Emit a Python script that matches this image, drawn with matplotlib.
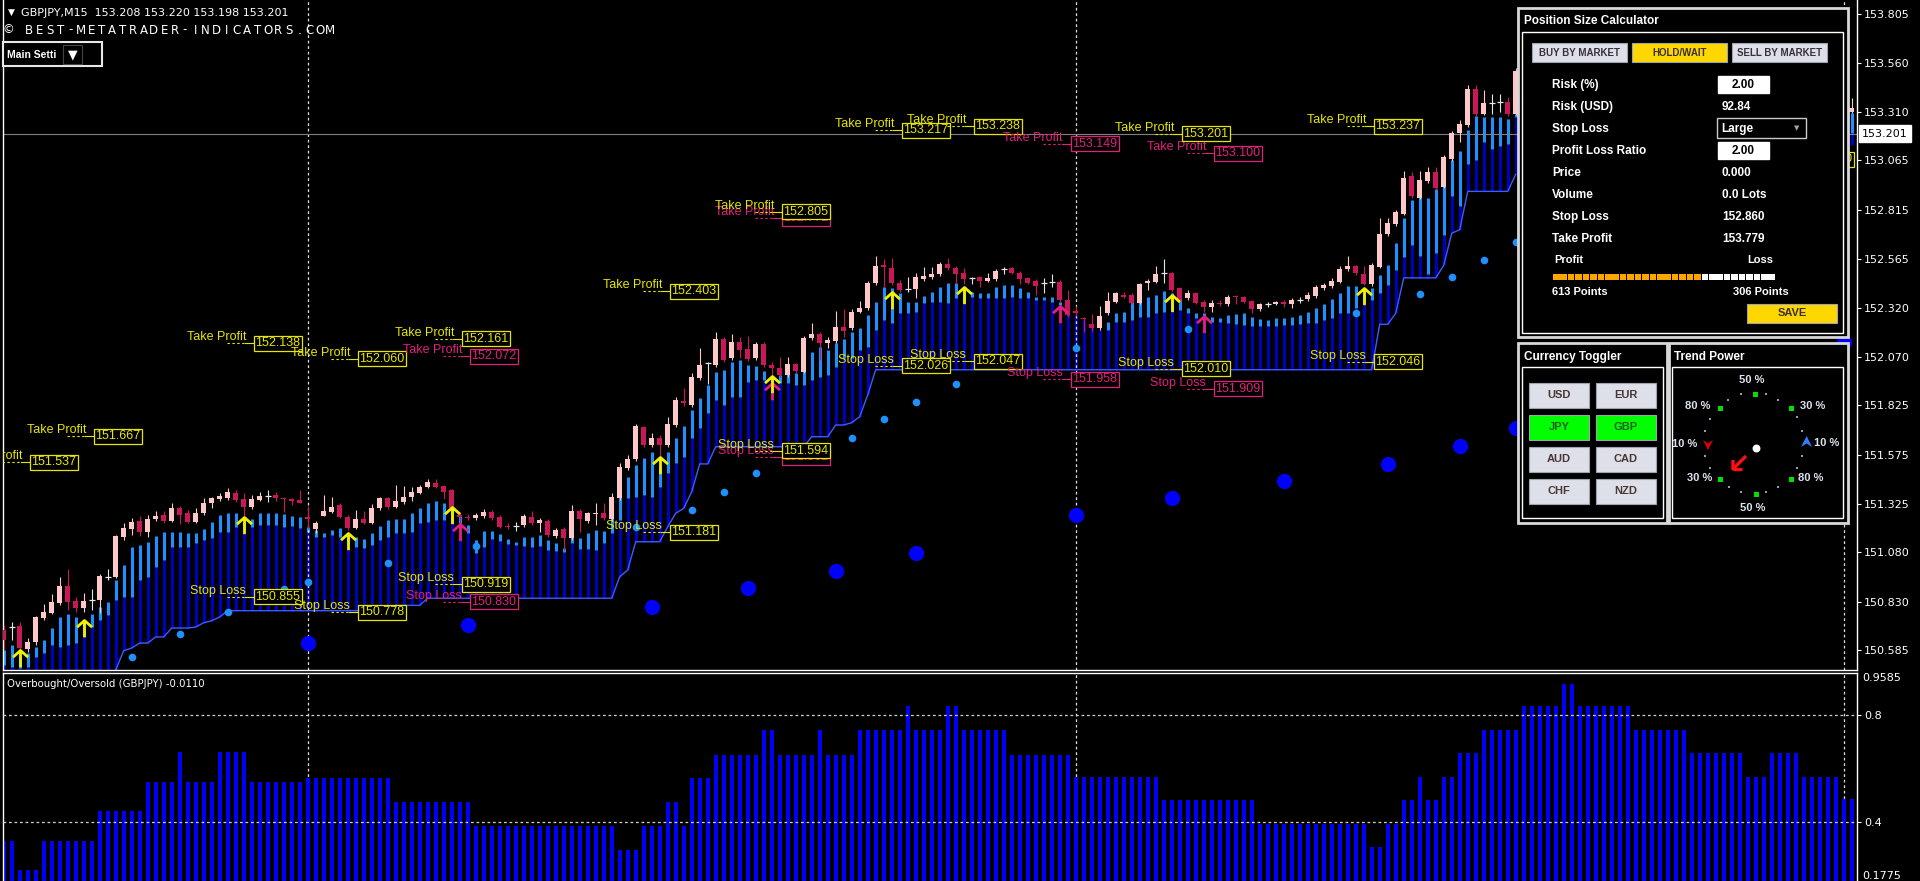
import numpy as np
import matplotlib
matplotlib.use('Agg')
import matplotlib.pyplot as plt
from matplotlib.patches import Rectangle, Polygon
from matplotlib.path import Path

# ---- GBPJPY M15 data ----
# bars 0..189 are visible, 190..230 sit under the panel, 231 is the last bar
bar_idx = list(range(190)) + [231]

opens = [
    150.687, 150.702, 150.707, 150.590, 150.628, 150.746, 150.775, 150.825, 150.910, 150.835,
    150.797, 150.839, 150.839, 150.957, 150.957, 151.159, 151.197, 151.241, 151.185, 151.248,
    151.269, 151.241, 151.306, 151.278, 151.235, 151.278, 151.329, 151.350, 151.354, 151.379,
    151.350, 151.308, 151.345, 151.367, 151.371, 151.354, 151.350, 151.345, 151.257, 151.197,
    151.264, 151.286, 151.320, 151.258, 151.205, 151.248, 151.230, 151.303, 151.354, 151.311,
    151.334, 151.359, 151.382, 151.413, 151.430, 151.416, 151.396, 151.267, 151.261, 151.253,
    151.264, 151.286, 151.258, 151.216, 151.214, 151.219, 151.258, 151.230, 151.241, 151.163,
    151.197, 151.151, 151.290, 151.241, 151.273, 151.281, 151.248, 151.354, 151.506, 151.551,
    151.713, 151.624, 151.661, 151.624, 151.725, 151.848, 151.826, 151.962, 152.037, 152.029,
    152.159, 152.063, 152.147, 152.108, 152.063, 152.134, 152.029, 152.012, 151.978, 152.034,
    151.995, 152.164, 152.184, 152.142, 152.150, 152.220, 152.215, 152.299, 152.316, 152.443,
    152.535, 152.518, 152.443, 152.414, 152.412, 152.463, 152.473, 152.488, 152.540, 152.518,
    152.493, 152.471, 152.473, 152.456, 152.463, 152.513, 152.518, 152.496, 152.468, 152.456,
    152.446, 152.451, 152.451, 152.358, 152.304, 152.269, 152.236, 152.215, 152.291, 152.349,
    152.383, 152.383, 152.344, 152.446, 152.451, 152.493, 152.493, 152.417, 152.367, 152.392,
    152.349, 152.324, 152.345, 152.338, 152.378, 152.372, 152.353, 152.311, 152.338, 152.338,
    152.349, 152.338, 152.358, 152.362, 152.378, 152.417, 152.429, 152.451, 152.513, 152.530,
    152.490, 152.439, 152.527, 152.691, 152.741, 152.795, 152.986, 152.877, 152.959, 153.004,
    152.931, 153.070, 153.203, 153.244, 153.425, 153.302, 153.356, 153.361, 153.361, 153.302,
    153.310]

highs = [
    150.713, 150.728, 150.728, 150.647, 150.758, 150.819, 150.869, 150.957, 150.994, 150.854,
    150.874, 150.895, 150.971, 150.996, 151.168, 151.230, 151.253, 151.264, 151.269, 151.291,
    151.290, 151.329, 151.315, 151.295, 151.303, 151.354, 151.362, 151.379, 151.405, 151.396,
    151.379, 151.371, 151.384, 151.396, 151.387, 151.361, 151.357, 151.396, 151.315, 151.239,
    151.371, 151.359, 151.330, 151.269, 151.295, 151.290, 151.325, 151.361, 151.361, 151.420,
    151.416, 151.410, 151.421, 151.450, 151.450, 151.421, 151.401, 151.286, 151.274, 151.281,
    151.298, 151.295, 151.269, 151.230, 151.235, 151.274, 151.290, 151.254, 151.249, 151.204,
    151.209, 151.320, 151.300, 151.286, 151.329, 151.332, 151.379, 151.531, 151.573, 151.730,
    151.720, 151.686, 151.674, 151.764, 151.865, 151.911, 151.987, 152.113, 152.046, 152.198,
    152.171, 152.184, 152.171, 152.176, 152.145, 152.145, 152.044, 152.071, 152.071, 152.041,
    152.176, 152.240, 152.196, 152.172, 152.304, 152.311, 152.311, 152.354, 152.454, 152.581,
    152.564, 152.569, 152.459, 152.473, 152.493, 152.527, 152.524, 152.552, 152.569, 152.530,
    152.518, 152.476, 152.480, 152.493, 152.513, 152.527, 152.525, 152.505, 152.476, 152.464,
    152.468, 152.490, 152.459, 152.409, 152.328, 152.273, 152.287, 152.328, 152.400, 152.399,
    152.400, 152.395, 152.444, 152.464, 152.530, 152.564, 152.500, 152.424, 152.409, 152.399,
    152.358, 152.358, 152.358, 152.383, 152.383, 152.378, 152.358, 152.343, 152.348, 152.353,
    152.358, 152.368, 152.375, 152.400, 152.434, 152.443, 152.468, 152.530, 152.581, 152.535,
    152.530, 152.545, 152.772, 152.772, 152.814, 153.013, 153.006, 153.013, 153.031, 153.031,
    153.092, 153.214, 153.269, 153.447, 153.447, 153.419, 153.401, 153.401, 153.386, 153.533,
    153.381]

lows = [
    150.586, 150.637, 150.545, 150.576, 150.611, 150.738, 150.768, 150.814, 150.788, 150.778,
    150.778, 150.788, 150.773, 150.940, 150.950, 151.143, 151.168, 151.163, 151.159, 151.239,
    151.230, 151.234, 151.224, 151.229, 151.229, 151.269, 151.303, 151.342, 151.345, 151.335,
    151.258, 151.300, 151.340, 151.337, 151.342, 151.286, 151.320, 151.329, 151.202, 151.177,
    151.262, 151.280, 151.254, 151.193, 151.199, 151.224, 151.224, 151.295, 151.300, 151.305,
    151.325, 151.342, 151.376, 151.406, 151.406, 151.350, 151.295, 151.227, 151.244, 151.244,
    151.254, 151.244, 151.204, 151.197, 151.190, 151.209, 151.219, 151.185, 151.158, 151.153,
    151.092, 151.143, 151.185, 151.229, 151.219, 151.244, 151.239, 151.345, 151.497, 151.543,
    151.614, 151.614, 151.517, 151.614, 151.715, 151.821, 151.816, 151.953, 151.933, 152.019,
    152.044, 152.054, 152.063, 152.049, 152.054, 152.019, 151.852, 151.968, 151.968, 151.988,
    151.988, 152.156, 152.054, 152.113, 152.140, 152.172, 152.206, 152.292, 152.307, 152.434,
    152.425, 152.434, 152.399, 152.400, 152.368, 152.454, 152.464, 152.480, 152.510, 152.439,
    152.439, 152.439, 152.422, 152.449, 152.454, 152.490, 152.490, 152.439, 152.439, 152.383,
    152.392, 152.425, 152.348, 152.272, 152.277, 152.197, 152.203, 152.206, 152.282, 152.343,
    152.368, 152.338, 152.338, 152.409, 152.444, 152.446, 152.399, 152.348, 152.358, 152.338,
    152.299, 152.299, 152.328, 152.328, 152.338, 152.343, 152.294, 152.302, 152.323, 152.333,
    152.324, 152.318, 152.341, 152.353, 152.368, 152.409, 152.419, 152.444, 152.505, 152.485,
    152.434, 152.429, 152.520, 152.682, 152.733, 152.788, 152.874, 152.869, 152.951, 152.915,
    152.925, 153.062, 153.158, 153.234, 153.290, 153.295, 153.302, 153.310, 153.290, 153.295,
    153.305]

closes = [
    150.637, 150.702, 150.596, 150.628, 150.751, 150.777, 150.830, 150.910, 150.830, 150.797,
    150.835, 150.839, 150.961, 150.957, 151.163, 151.202, 151.235, 151.185, 151.248, 151.264,
    151.239, 151.306, 151.269, 151.235, 151.278, 151.329, 151.357, 151.366, 151.384, 151.345,
    151.308, 151.350, 151.367, 151.367, 151.354, 151.348, 151.342, 151.332, 151.249, 151.230,
    151.290, 151.311, 151.261, 151.202, 151.248, 151.230, 151.306, 151.354, 151.311, 151.340,
    151.359, 151.387, 151.413, 151.435, 151.413, 151.387, 151.303, 151.259, 151.253, 151.269,
    151.286, 151.253, 151.210, 151.209, 151.214, 151.264, 151.227, 151.244, 151.168, 151.193,
    151.151, 151.290, 151.248, 151.278, 151.281, 151.253, 151.362, 151.511, 151.551, 151.722,
    151.624, 151.661, 151.624, 151.730, 151.852, 151.835, 151.970, 152.029, 152.037, 152.159,
    152.054, 152.147, 152.105, 152.058, 152.134, 152.029, 152.012, 151.978, 152.034, 152.000,
    152.164, 152.184, 152.142, 152.156, 152.220, 152.203, 152.299, 152.316, 152.443, 152.530,
    152.524, 152.443, 152.409, 152.414, 152.473, 152.480, 152.490, 152.540, 152.518, 152.490,
    152.463, 152.471, 152.456, 152.468, 152.506, 152.513, 152.496, 152.463, 152.446, 152.429,
    152.446, 152.451, 152.358, 152.282, 152.291, 152.262, 152.215, 152.277, 152.353, 152.392,
    152.375, 152.344, 152.438, 152.454, 152.490, 152.493, 152.409, 152.358, 152.395, 152.344,
    152.324, 152.344, 152.338, 152.375, 152.371, 152.349, 152.311, 152.338, 152.338, 152.346,
    152.338, 152.358, 152.358, 152.383, 152.422, 152.434, 152.456, 152.513, 152.530, 152.493,
    152.439, 152.535, 152.692, 152.750, 152.805, 152.976, 152.886, 152.964, 153.004, 152.926,
    153.082, 153.203, 153.251, 153.428, 153.298, 153.356, 153.356, 153.361, 153.302, 153.519,
    153.330]

# trend histogram: light part from hist_top down to hist_split, dark part down to the trailing stop
hist_top = [
    150.586, 150.611, 150.552, 150.569, 150.603, 150.637, 150.696, 150.751, 150.768, 150.751,
    150.738, 150.768, 150.805, 150.830, 150.940, 151.016, 151.109, 151.118, 151.134, 151.163,
    151.185, 151.185, 151.185, 151.180, 151.180, 151.197, 151.235, 151.269, 151.278, 151.278,
    151.235, 151.248, 151.278, 151.278, 151.278, 151.274, 151.264, 151.261, 151.210, 151.193,
    151.180, 151.193, 151.202, 151.159, 151.159, 151.146, 151.177, 151.214, 151.244, 151.248,
    151.248, 151.278, 151.306, 151.332, 151.342, 151.332, 151.311, 151.269, 151.219, 151.143,
    151.190, 151.190, 151.173, 151.146, 151.134, 151.156, 151.156, 151.168, 151.143, 151.126,
    151.101, 151.163, 151.151, 151.180, 151.193, 151.190, 151.303, 151.396, 151.463, 151.523,
    151.556, 151.590, 151.514, 151.590, 151.658, 151.720, 151.801, 151.860, 151.928, 151.995,
    152.004, 152.046, 152.054, 152.029, 152.024, 152.000, 151.970, 151.978, 151.983, 151.987,
    152.012, 152.096, 152.122, 152.105, 152.139, 152.159, 152.198, 152.215, 152.282, 152.349,
    152.425, 152.417, 152.392, 152.349, 152.349, 152.378, 152.400, 152.422, 152.443, 152.446,
    152.409, 152.400, 152.395, 152.395, 152.425, 152.434, 152.434, 152.417, 152.400, 152.375,
    152.375, 152.372, 152.349, 152.291, 152.282, 152.257, 152.223, 152.206, 152.248, 152.291,
    152.299, 152.349, 152.372, 152.375, 152.383, 152.405, 152.395, 152.362, 152.316, 152.291,
    152.291, 152.274, 152.265, 152.282, 152.287, 152.291, 152.274, 152.262, 152.257, 152.265,
    152.265, 152.274, 152.282, 152.299, 152.316, 152.338, 152.362, 152.392, 152.430, 152.429,
    152.395, 152.417, 152.485, 152.535, 152.645, 152.772, 152.864, 152.885, 152.877, 152.922,
    152.940, 153.067, 153.112, 153.221, 153.288, 153.284, 153.284, 153.284, 153.274, 153.302,
    153.305]

hist_split = [
    150.510, 150.501, 150.493, 150.501, 150.552, 150.569, 150.611, 150.603, 150.611, 150.620,
    150.653, 150.704, 150.738, 150.763, 150.839, 150.856, 150.856, 150.940, 150.957, 151.008,
    151.042, 151.109, 151.109, 151.109, 151.126, 151.143, 151.151, 151.185, 151.185, 151.210,
    151.193, 151.210, 151.219, 151.219, 151.219, 151.210, 151.214, 151.202, 151.185, 151.159,
    151.159, 151.168, 151.159, 151.126, 151.109, 151.101, 151.118, 151.143, 151.159, 151.177,
    151.177, 151.185, 151.227, 151.235, 151.244, 151.244, 151.235, 151.227, 151.177, 151.075,
    151.109, 151.146, 151.139, 151.123, 151.118, 151.113, 151.109, 151.113, 151.092, 151.089,
    151.084, 151.126, 151.096, 151.096, 151.092, 151.126, 151.177, 151.244, 151.354, 151.362,
    151.371, 151.362, 151.413, 151.481, 151.531, 151.565, 151.658, 151.708, 151.784, 151.852,
    151.826, 151.868, 151.868, 151.944, 151.953, 151.953, 151.911, 151.936, 151.939, 151.928,
    151.928, 151.953, 151.970, 151.978, 152.020, 152.063, 152.063, 152.105, 152.122, 152.206,
    152.257, 152.240, 152.291, 152.291, 152.299, 152.341, 152.349, 152.349, 152.341, 152.367,
    152.341, 152.375, 152.367, 152.367, 152.367, 152.367, 152.375, 152.367, 152.367, 152.358,
    152.358, 152.349, 152.333, 152.282, 152.282, 152.257, 152.223, 152.206, 152.206, 152.248,
    152.248, 152.257, 152.274, 152.274, 152.291, 152.299, 152.307, 152.307, 152.291, 152.265,
    152.265, 152.248, 152.248, 152.240, 152.237, 152.231, 152.226, 152.226, 152.226, 152.226,
    152.231, 152.231, 152.237, 152.240, 152.243, 152.257, 152.265, 152.291, 152.291, 152.316,
    152.341, 152.358, 152.392, 152.434, 152.510, 152.577, 152.637, 152.579, 152.490, 152.597,
    152.687, 152.886, 152.832, 153.049, 153.067, 153.158, 153.121, 153.139, 153.148, 153.285,
    153.204]

trail_stop = [
    150.450, 150.450, 150.450, 150.450, 150.450, 150.450, 150.450, 150.450, 150.450, 150.450,
    150.450, 150.450, 150.450, 150.450, 150.485, 150.582, 150.596, 150.621, 150.621, 150.652,
    150.652, 150.697, 150.697, 150.697, 150.702, 150.724, 150.734, 150.753, 150.785, 150.785,
    150.785, 150.785, 150.785, 150.785, 150.785, 150.785, 150.785, 150.785, 150.785, 150.785,
    150.785, 150.785, 150.785, 150.785, 150.785, 150.785, 150.785, 150.785, 150.785, 150.812,
    150.812, 150.812, 150.812, 150.848, 150.848, 150.848, 150.848, 150.848, 150.848, 150.848,
    150.848, 150.848, 150.848, 150.848, 150.848, 150.848, 150.848, 150.848, 150.848, 150.848,
    150.848, 150.848, 150.848, 150.848, 150.848, 150.848, 150.848, 150.957, 150.991, 151.134,
    151.134, 151.134, 151.134, 151.210, 151.278, 151.303, 151.387, 151.528, 151.528, 151.615,
    151.615, 151.615, 151.615, 151.615, 151.615, 151.615, 151.615, 151.615, 151.615, 151.615,
    151.615, 151.666, 151.666, 151.666, 151.725, 151.725, 151.737, 151.767, 151.877, 152.005,
    152.005, 152.005, 152.005, 152.005, 152.005, 152.005, 152.005, 152.005, 152.005, 152.005,
    152.005, 152.005, 152.005, 152.005, 152.005, 152.005, 152.005, 152.005, 152.005, 152.005,
    152.005, 152.005, 152.005, 152.005, 152.005, 152.005, 152.005, 152.005, 152.005, 152.005,
    152.005, 152.005, 152.005, 152.005, 152.005, 152.005, 152.005, 152.005, 152.005, 152.005,
    152.005, 152.005, 152.005, 152.005, 152.005, 152.005, 152.005, 152.005, 152.005, 152.005,
    152.005, 152.005, 152.005, 152.005, 152.005, 152.005, 152.005, 152.005, 152.005, 152.005,
    152.005, 152.005, 152.235, 152.235, 152.291, 152.470, 152.470, 152.470, 152.470, 152.470,
    152.533, 152.696, 152.714, 152.908, 152.908, 152.908, 152.908, 152.908, 152.908, 152.994,
    153.143]

# signal dots
small_dot_bar = [16, 22, 28, 35, 38, 48, 59, 79, 86, 90, 94, 100, 106, 110, 114, 119, 125, 134,
                 148, 169, 177, 181, 185, 189]
small_dot_px = [150.552, 150.667, 150.780, 150.893, 150.932, 151.025, 151.114, 151.210, 151.295,
                151.387, 151.481, 151.573, 151.661, 151.754, 151.843, 151.933, 152.025, 152.117,
                152.210, 152.294, 152.387, 152.475, 152.561, 152.652]
big_dot_bar = [38, 58, 81, 93, 104, 114, 134, 146, 160, 173, 182, 189, 230]
big_dot_px = [150.620, 150.713, 150.805, 150.898, 150.987, 151.079, 151.269, 151.354, 151.443,
              151.528, 151.620, 151.710, 152.147]

# buy arrows (tip price)
yellow_arrow_bar = [2, 10, 30, 43, 56, 82, 96, 111, 120, 146, 170]
yellow_arrow_px = [150.586, 150.738, 151.258, 151.180, 151.308, 151.562, 151.973, 152.400,
                   152.422, 152.383, 152.417]
pink_arrow_bar = [57, 96, 132, 150]
pink_arrow_px = [151.224, 151.939, 152.329, 152.277]

# take profit / stop loss tags: (bar, price, text, colour key)
tp_sl_tags = [
    (3.3, 151.537, 'Take Profit', 'y'), (11.3, 151.667, 'Take Profit', 'y'),
    (31.3, 152.138, 'Take Profit', 'y'), (31.3, 150.855, 'Stop Loss', 'y'),
    (44.3, 152.060, 'Take Profit', 'y'), (44.3, 150.778, 'Stop Loss', 'y'),
    (58.3, 152.072, 'Take Profit', 'm'), (58.3, 150.830, 'Stop Loss', 'm'),
    (57.3, 152.161, 'Take Profit', 'y'), (57.3, 150.919, 'Stop Loss', 'y'),
    (83.3, 152.403, 'Take Profit', 'y'), (83.3, 151.181, 'Stop Loss', 'y'),
    (97.3, 152.772, 'Take Profit', 'm'), (97.3, 151.562, 'Stop Loss', 'm'),
    (97.3, 152.805, 'Take Profit', 'y'), (97.3, 151.594, 'Stop Loss', 'y'),
    (112.3, 153.217, 'Take Profit', 'y'), (112.3, 152.026, 'Stop Loss', 'y'),
    (121.3, 153.238, 'Take Profit', 'y'), (121.3, 152.047, 'Stop Loss', 'y'),
    (133.4, 153.149, 'Take Profit', 'm'), (133.4, 151.958, 'Stop Loss', 'm'),
    (151.3, 153.100, 'Take Profit', 'm'), (151.3, 151.909, 'Stop Loss', 'm'),
    (147.3, 153.201, 'Take Profit', 'y'), (147.3, 152.010, 'Stop Loss', 'y'),
    (171.3, 153.237, 'Take Profit', 'y'), (171.3, 152.046, 'Stop Loss', 'y'),
    (225.3, 153.070, 'Stop Loss', 'y'),
]

day_breaks = [38, 134, 230]
bid = 153.201
price_ticks = [153.805, 153.560, 153.310, 153.065, 152.815, 152.565, 152.320, 152.070,
               151.825, 151.575, 151.325, 151.080, 150.830, 150.585]

# Overbought/Oversold histogram, one value per bar (0..231)
osc = [
    0.327, 0.327, 0.218, 0.218, 0.218, 0.327, 0.327, 0.327, 0.327, 0.327,
    0.327, 0.327, 0.440, 0.440, 0.440, 0.440, 0.440, 0.440, 0.549, 0.549,
    0.549, 0.549, 0.663, 0.549, 0.549, 0.549, 0.549, 0.663, 0.663, 0.663,
    0.663, 0.549, 0.549, 0.549, 0.549, 0.549, 0.549, 0.549, 0.565, 0.565,
    0.565, 0.565, 0.565, 0.565, 0.565, 0.565, 0.565, 0.565, 0.565, 0.474,
    0.474, 0.474, 0.474, 0.474, 0.474, 0.474, 0.474, 0.474, 0.474, 0.385,
    0.385, 0.385, 0.385, 0.385, 0.385, 0.385, 0.385, 0.385, 0.385, 0.385,
    0.385, 0.385, 0.385, 0.385, 0.385, 0.385, 0.385, 0.294, 0.294, 0.294,
    0.385, 0.385, 0.385, 0.474, 0.474, 0.385, 0.565, 0.565, 0.565, 0.653,
    0.653, 0.653, 0.653, 0.653, 0.653, 0.745, 0.745, 0.653, 0.653, 0.653,
    0.653, 0.653, 0.745, 0.653, 0.653, 0.653, 0.653, 0.745, 0.745, 0.745,
    0.745, 0.745, 0.745, 0.835, 0.745, 0.745, 0.745, 0.745, 0.835, 0.835,
    0.745, 0.745, 0.745, 0.745, 0.745, 0.745, 0.653, 0.653, 0.653, 0.653,
    0.653, 0.653, 0.653, 0.653, 0.567, 0.567, 0.567, 0.567, 0.567, 0.567,
    0.567, 0.567, 0.567, 0.567, 0.567, 0.482, 0.482, 0.482, 0.482, 0.482,
    0.482, 0.482, 0.482, 0.482, 0.482, 0.482, 0.482, 0.391, 0.391, 0.391,
    0.391, 0.391, 0.391, 0.391, 0.391, 0.391, 0.391, 0.391, 0.391, 0.391,
    0.391, 0.304, 0.304, 0.391, 0.391, 0.482, 0.482, 0.567, 0.482, 0.482,
    0.567, 0.567, 0.657, 0.657, 0.657, 0.745, 0.745, 0.745, 0.745, 0.745,
    0.835, 0.835, 0.835, 0.835, 0.835, 0.920, 0.920, 0.835, 0.835, 0.835,
    0.835, 0.835, 0.835, 0.835, 0.745, 0.745, 0.745, 0.745, 0.745, 0.745,
    0.745, 0.657, 0.657, 0.657, 0.657, 0.657, 0.657, 0.657, 0.567, 0.567,
    0.567, 0.657, 0.657, 0.657, 0.657, 0.567, 0.567, 0.567, 0.567, 0.567,
    0.484, 0.484]

# ---- colours ----
BULL = '#ffc8c8'
BEAR = '#c8185a'
LIGHT = '#1e90ff'
DARK = '#0000c0'
YEL = '#e6e600'
MAG = '#e0207a'
tag_color = {'y': YEL, 'm': MAG}
LBL = ['Liberation Sans', 'DejaVu Sans']
GUIF = ['Liberation Sans', 'DejaVu Sans']

W, H = 1920, 881
fig = plt.figure(figsize=(W / 100, H / 100), dpi=100, facecolor='black')
ax = fig.add_axes([2.5 / W, 211 / H, (1857 - 2.5) / W, 670 / H], facecolor='black')
ax2 = fig.add_axes([2.5 / W, 0, (1857 - 2.5) / W, 207.7 / H], facecolor='black')

x = np.array(bar_idx)
o, h, l, c = (np.array(v) for v in (opens, highs, lows, closes))
top, split, trail = np.array(hist_top), np.array(hist_split), np.array(trail_stop)

# trend histogram + trailing stop
ax.vlines(x, trail, split, colors=DARK, lw=2.2, zorder=1)
ax.vlines(x, split, top, colors=LIGHT, lw=2.2, zorder=1.1)
ax.plot(x[:190], trail[:190], color='#3d5cff', lw=1.0, zorder=2)
ax.plot(x[190:], trail[190:], color='#3d5cff', lw=1.0, zorder=2)

for b in day_breaks:
    for a in (ax, ax2):
        a.axvline(b, color='#e0e0e0', lw=0.9, ls=(0, (2.2, 2.2)), zorder=1.5)
ax.axhline(bid, color='#808080', lw=0.8, zorder=1.6)

# dots
ax.scatter(small_dot_bar, small_dot_px, s=30, color=LIGHT, lw=0, zorder=3)
ax.scatter(big_dot_bar, big_dot_px, s=120, color='#0000ff', lw=0, zorder=3)

# candles
doji = c == o
body_col = np.where(c > o, BULL, BEAR)
wick_col = np.where(doji, '#e6e6e6', body_col)
ax.vlines(x, l, h, colors=wick_col, lw=0.8, zorder=4)
nd = ~doji
ax.bar(x[nd], np.maximum(np.abs(c - o)[nd], 0.005), bottom=np.minimum(o, c)[nd], width=0.62,
       color=body_col[nd], lw=0, zorder=4.5)
ax.hlines(c[doji], x[doji] - 0.35, x[doji] + 0.35, colors='#e6e6e6', lw=0.9, zorder=4.5)

# up arrows: chevron + stem, tip on the point
arrow = Path([(0, 0), (0, -2), (-0.9, -0.8), (0, 0), (0.9, -0.8)],
             [Path.MOVETO, Path.LINETO, Path.MOVETO, Path.LINETO, Path.LINETO])
ax.plot(pink_arrow_bar, pink_arrow_px, ls='none', marker=arrow, ms=24, mfc='none', mec=MAG,
        mew=2.0, zorder=5)
ax.plot(yellow_arrow_bar, yellow_arrow_px, ls='none', marker=arrow, ms=24, mfc='none', mec='#f0f000',
        mew=2.0, zorder=5.1)

# TP / SL tags
for k, (b, p, txt, ck) in enumerate(tp_sl_tags):
    col = tag_color[ck]
    z = 6 + k * 0.01
    ax.plot([b - 3.45, b - 1.15], [p, p], color=col, lw=0.8, ls=(0, (2.2, 2.2)), zorder=z)
    ax.plot([b - 1.15, b], [p, p], color=col, lw=0.8, zorder=z)
    ax.text(b - 1.0, p, txt, color=col, ha='right', va='bottom', fontsize=9, family=LBL,
            zorder=z, clip_on=True)
    ax.text(b + 0.18, p, f'{p:.3f}', color=col, ha='left', va='center', fontsize=9, family=LBL,
            zorder=z + 0.005, clip_on=True,
            bbox=dict(boxstyle='square,pad=0.12', fc='black', ec=col, lw=0.9))

ax.set_xlim(-0.15, 231.66)
ax.set_ylim(150.4846, 153.877)
ax.set_xticks([])
ax.yaxis.tick_right()
ax.set_yticks(price_ticks)
ax.set_yticklabels([f'{t:.3f}' for t in price_ticks])
ax.tick_params(axis='y', colors='white', length=3, width=0.8, pad=2, labelsize=8)
for s in ('left', 'right', 'bottom'):
    ax.spines[s].set_color('white')
    ax.spines[s].set_linewidth(1.0)
ax.spines['top'].set_visible(False)
ax.text(1.0027, bid, f'{bid:.3f}', transform=ax.get_yaxis_transform(), ha='left', va='center',
        fontsize=8, color='black', bbox=dict(boxstyle='square,pad=0.3', fc='white', ec='white'),
        zorder=8, clip_on=False)

# bottom panel
ax2.vlines(np.arange(len(osc)), 0, osc, colors='#0000ff', lw=2.8, zorder=2)
for lev in (0.8, 0.4):
    ax2.axhline(lev, color='#d0d0d0', lw=0.9, ls=(0, (2.2, 2.2)), zorder=3)
ax2.set_xlim(-0.15, 231.66)
ax2.set_ylim(0.1775, 0.9585)
ax2.set_xticks([])
ax2.yaxis.tick_right()
ax2.set_yticks([0.8, 0.4])
ax2.set_yticklabels(['0.8', '0.4'])
ax2.tick_params(axis='y', colors='white', length=3, width=0.8, pad=2, labelsize=8)
ax2.text(1.0027, 0.9585, '0.9585', transform=ax2.get_yaxis_transform(), ha='left', va='top',
         fontsize=8, color='white', clip_on=False)
ax2.text(1.0027, 0.1775, '0.1775', transform=ax2.get_yaxis_transform(), ha='left', va='bottom',
         fontsize=8, color='white', clip_on=False)
for s in ('left', 'right', 'top'):
    ax2.spines[s].set_color('white')
    ax2.spines[s].set_linewidth(1.0)
ax2.spines['bottom'].set_visible(False)

# ---- overlay in pixel coordinates: header text and the EA panels ----
gui = fig.add_axes([0, 0, 1, 1])
gui.set_xlim(0, W)
gui.set_ylim(H, 0)
gui.axis('off')
gui.patch.set_alpha(0)
gui.set_zorder(10)


def box(x0, y0, x1, y1, fc='black', ec='white', lw=1.0):
    gui.add_patch(Rectangle((x0, y0), x1 - x0, y1 - y0, fc=fc, ec=ec, lw=lw))


def gtxt(xp, yp, s, color='white', size=8.5, ha='left', weight='bold', family=GUIF):
    gui.text(xp, yp, s, color=color, fontsize=size, ha=ha, va='center', fontweight=weight,
             family=family)


gui.text(11, 12.5, '\u25bc', color='white', fontsize=6.5, ha='center', va='center')
gui.text(21, 13, 'GBPJPY,M15  153.208 153.220 153.198 153.201', color='white', fontsize=8,
         ha='left', va='center')
for k, ch in enumerate('\u00a9 BEST-METATRADER-INDICATORS.COM'):
    gui.text(8.5 + 10.38 * k, 30, ch, color='white', fontsize=8.5, ha='center', va='center')
box(3, 42, 102, 66, ec='#e8e8e8', lw=1.5)
gtxt(7, 54.5, 'Main Setti', size=7.5)
box(63, 45, 82, 64, ec='#444444', lw=0.8)
gui.text(72.5, 54.5, '\u25bc', color='white', fontsize=9, ha='center', va='center')
gui.text(7, 684, 'Overbought/Oversold (GBPJPY) -0.0110', color='white', fontsize=7.3,
         ha='left', va='center')

# Position Size Calculator
box(1518, 8, 1848, 337, ec='#d8d8d8', lw=2.0)
box(1522, 32, 1843, 333, ec='white', lw=1.0)
gtxt(1524, 21, 'Position Size Calculator', size=8.5)
BTN_TXT = '#3a2f3a'
for bx, lab, fc in ((1532, 'BUY BY MARKET', '#dde0e8'), (1632, 'HOLD/WAIT', '#ffd700'),
                    (1732, 'SELL BY MARKET', '#dde0e8')):
    box(bx, 43, bx + 95, 62, fc=fc, ec='#a0a4b0', lw=0.8)
    gtxt(bx + 47.5, 52.5, lab, color=BTN_TXT, size=7, ha='center')
row_labels = ['Risk (%)', 'Risk (USD)', 'Stop Loss', 'Profit Loss Ratio', 'Price', 'Volume',
              'Stop Loss', 'Take Profit']
row_values = ['2.00', '92.84', 'Large', '2.00', '0.000', '0.0 Lots', '152.860', '153.779']
for k, (lab, val) in enumerate(zip(row_labels, row_values)):
    yy = 85 + 22 * k
    gtxt(1552, yy, lab, size=8.5)
    if k in (0, 3):
        box(1718, yy - 9, 1769, yy + 8, fc='white', ec='white')
        gtxt(1743.5, yy, val, color='black', size=8.5, ha='center')
    elif k == 2:
        box(1717, yy - 11, 1806, yy + 9, fc='black', ec='#c8c8d0', lw=1.0)
        gtxt(1721, yy, val, size=8.5)
        gui.text(1797, yy - 1, '\u25bc', color='#a0a0a0', fontsize=5, ha='center', va='center')
    else:
        gtxt(1722, yy, val, size=8.5)
gtxt(1554, 260, 'Profit', size=8)
gtxt(1747, 260, 'Loss', size=8)
profit_pts, loss_pts = 613, 306
n_seg = 30
n_profit = round(n_seg * profit_pts / (profit_pts + loss_pts))
for k in range(n_seg):
    sx = 1553 + k * 7.43
    box(sx, 274, sx + 6.6, 280, fc='#ffa500' if k < n_profit else 'white', ec='none', lw=0)
gtxt(1552, 292, f'{profit_pts} Points', size=8)
gtxt(1733, 292, f'{loss_pts} Points', size=8)
box(1747, 304, 1837, 323, fc='#ffd700', ec='#a0a4b0', lw=0.8)
gtxt(1792, 313.5, 'SAVE', color=BTN_TXT, size=8, ha='center')

# Currency Toggler
box(1518, 343, 1667, 523, ec='#d8d8d8', lw=2.0)
box(1522, 367, 1663, 518, ec='white', lw=1.0)
gtxt(1524, 357, 'Currency Toggler', size=8.5)
currencies = [('USD', 'EUR'), ('JPY', 'GBP'), ('AUD', 'CAD'), ('CHF', 'NZD')]
active = ('JPY', 'GBP')
for r, pair in enumerate(currencies):
    yy = 383 + 32 * r
    for cc, cur in enumerate(pair):
        bx = 1529 + 67 * cc
        on = cur in active
        box(bx, yy, bx + 60, yy + 25, fc='#00ff00' if on else '#dde0e8', ec='#a0a4b0', lw=0.8)
        gtxt(bx + 30, yy + 12.5, cur, color='#1f5f1f' if on else '#4a3535', size=8, ha='center')

# Trend Power
box(1669, 343, 1848, 523, ec='#d8d8d8', lw=2.0)
box(1672, 367, 1843, 518, ec='white', lw=1.0)
gtxt(1674, 357, 'Trend Power', size=8.5)
PCT = '#dde3ee'
for s, px, py in (('50 %', 1752, 380), ('80 %', 1698, 406), ('30 %', 1813, 406),
                  ('10 %', 1685, 444), ('10 %', 1827, 443), ('30 %', 1700, 478),
                  ('80 %', 1811, 478), ('50 %', 1753, 508)):
    gtxt(px, py, s, color=PCT, size=8, ha='center')
for px, py in ((1755, 394), (1720, 408), (1791, 408), (1720, 479), (1791, 479), (1756, 494)):
    box(px - 2.5, py - 2.5, px + 2.5, py + 2.5, fc='#00e000', ec='none', lw=0)
for px, py in ((1741, 394), (1766, 394), (1728, 400), (1778, 400), (1710, 419), (1797, 417),
               (1705, 431), (1802, 431), (1705, 456), (1802, 456), (1710, 468), (1797, 468),
               (1729, 487), (1778, 487), (1741, 492), (1766, 492)):
    box(px - 0.8, py - 0.8, px + 0.8, py + 0.8, fc='#8ea0c0', ec='none', lw=0)
gui.scatter([1756], [447.7], s=22, color='white', zorder=3)
gui.add_patch(Polygon([(1703, 440), (1708, 443.5), (1713, 440), (1708, 450)], closed=True,
                      fc='#e00000', ec='none'))
gui.add_patch(Polygon([(1801, 447), (1806.7, 443.5), (1812, 447), (1806.7, 436)], closed=True,
                      fc='#2f7fff', ec='none'))
gui.plot([1746, 1733, 1733], [456, 469, 460], color='#ff1010', lw=2.4, solid_capstyle='butt')
gui.plot([1733, 1742], [469, 469], color='#ff1010', lw=2.4, solid_capstyle='butt')

fig.savefig('out.png', dpi=100, facecolor='black')
